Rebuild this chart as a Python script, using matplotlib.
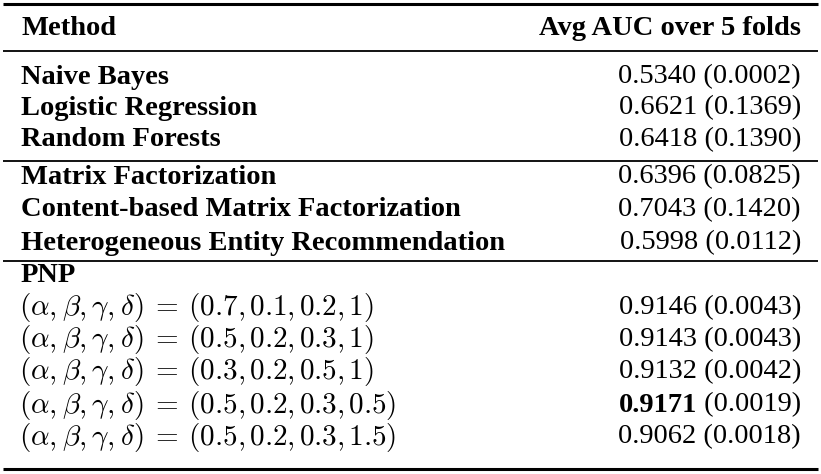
import matplotlib
matplotlib.use("Agg")
import matplotlib.pyplot as plt

plt.rcParams['font.family'] = ['Liberation Serif', 'DejaVu Serif']
plt.rcParams['mathtext.fontset'] = 'cm'

header = ["Method", "Avg AUC over 5 folds"]
group1 = ["Naive Bayes", "Logistic Regression", "Random Forests"]
group1_auc = ["0.5340", "0.6621", "0.6418"]
group1_sd = ["0.0002", "0.1369", "0.1390"]
group2 = ["Matrix Factorization", "Content-based Matrix Factorization",
          "Heterogeneous Entity Recommendation"]
group2_auc = ["0.6396", "0.7043", "0.5998"]
group2_sd = ["0.0825", "0.1420", "0.0112"]
pnp_title = "PNP"
pnp_params = ["(0.7, 0.1, 0.2, 1)", "(0.5, 0.2, 0.3, 1)", "(0.3, 0.2, 0.5, 1)",
              "(0.5, 0.2, 0.3, 0.5)", "(0.5, 0.2, 0.3, 1.5)"]
pnp_auc = ["0.9146", "0.9143", "0.9132", "0.9171", "0.9062"]
pnp_sd = ["0.0043", "0.0043", "0.0042", "0.0019", "0.0018"]
best_idx = 3

W, H = 821, 474
fig = plt.figure(figsize=(W / 100, H / 100), dpi=100)
ax = fig.add_axes([0, 0, 1, 1])
ax.set_xlim(0, W)
ax.set_ylim(H, 0)
ax.axis('off')

FS = 20.5
FSM = 21
XL, XR = 21, 801
x0, x1 = 3, 818

def rule(y, lw):
    ax.plot([x0, x1], [y, y], color='black', lw=lw, solid_capstyle='butt')

rule(3.5, 2.2)
rule(51, 1.3)
rule(161, 1.3)
rule(261, 1.3)
rule(469, 2.2)

ax.text(XL, 28, header[0], fontsize=FS, fontweight='bold', va='center', ha='left')
ax.text(XR, 28, header[1], fontsize=FS, fontweight='bold', va='center', ha='right')

fig.canvas.draw()
renderer = fig.canvas.get_renderer()

def value(y, auc, sd, bold=False):
    if not bold:
        ax.text(XR, y, f"{auc} ({sd})", fontsize=FS, va='center', ha='right')
    else:
        t = ax.text(XR, y, f" ({sd})", fontsize=FS, va='center', ha='right')
        bb = t.get_window_extent(renderer=renderer)
        inv = ax.transData.inverted()
        xleft = inv.transform((bb.x0, 0))[0]
        ax.text(xleft, y, auc, fontsize=FS, fontweight='bold', va='center', ha='right')

ys1 = [77, 108, 140]
for y, n, a, s in zip(ys1, group1, group1_auc, group1_sd):
    ax.text(XL, y, n, fontsize=FS, fontweight='bold', va='center', ha='left')
    value(y, a, s)

ys2 = [177, 210, 243]
for y, n, a, s in zip(ys2, group2, group2_auc, group2_sd):
    ax.text(XL, y, n, fontsize=FS, fontweight='bold', va='center', ha='left')
    value(y, a, s)

ax.text(XL, 275, pnp_title, fontsize=FS, fontweight='bold', va='center', ha='left')
ys3 = [308, 340, 372, 405, 437]
for i, (y, p, a, s) in enumerate(zip(ys3, pnp_params, pnp_auc, pnp_sd)):
    tup = p.replace(", ", r"{,}\,")
    ax.text(XL - 2, y, r"$(\alpha, \beta, \gamma, \delta)\:=\:" + tup + "$",
            fontsize=FSM, va='center', ha='left')
    value(y, a, s, bold=(i == best_idx))

fig.savefig("out.png", dpi=100)
